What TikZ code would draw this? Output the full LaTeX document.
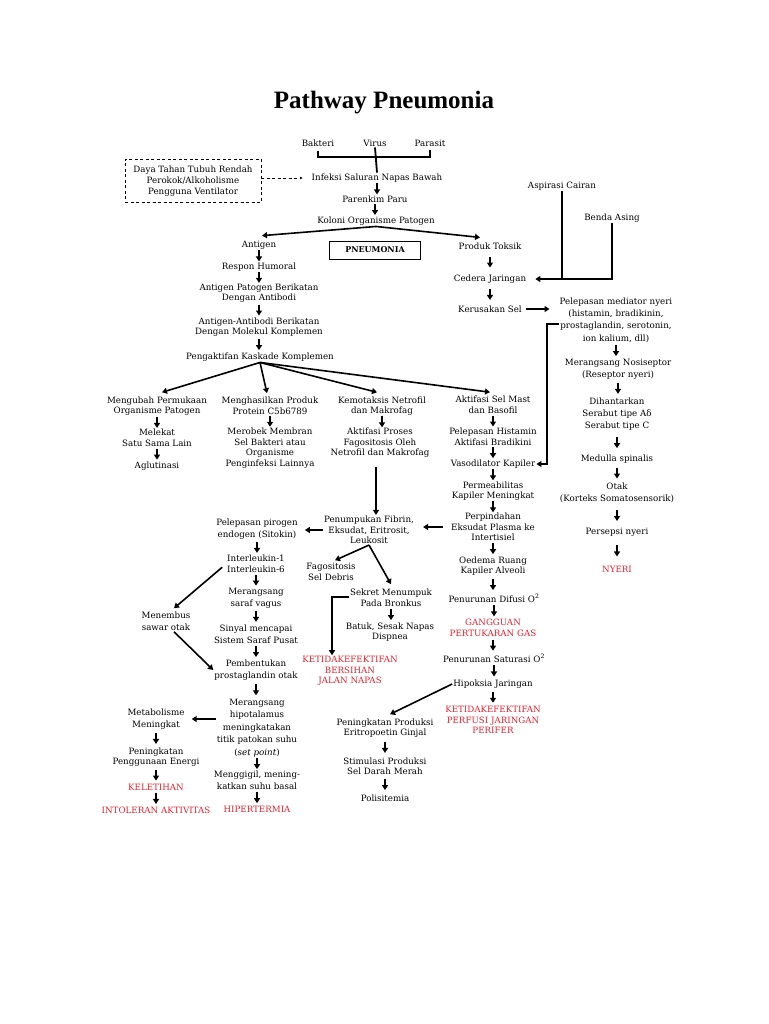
\documentclass[tikz,border=0pt]{standalone}
\usepackage{fontspec}
\setmainfont{DejaVu Serif}
\newfontfamily\judulfont{Liberation Serif}
\usetikzlibrary{arrows.meta}
\definecolor{merah}{RGB}{226,36,48}

\tikzset{
  teks/.style = {align = center, inner sep = 1pt, font = \fontsize{8.7}{10.5}\selectfont},
  longgar/.style = {font = \fontsize{8.7}{12.4}\selectfont},
  diagnosa/.style = {teks, text = merah},
  panah/.style = {line width = 1.6pt, -{Triangle[width = 6pt, length = 5pt]}},
  garis/.style = {line width = 1.8pt},
  putus/.style = {line width = .6pt, dash pattern = on 3pt off 2.5pt,
    -{Triangle[width = 2.5pt, length = 2.5pt]}, shorten >= 8pt}
}

\begin{document}
\begin{tikzpicture}[x = 1pt, y = -1pt]
        \fill[white] (0,0) rectangle (768,1024);

        % draws the title
        \node[font = \judulfont\bfseries\fontsize{25}{30}\selectfont] (judul) at (384,103) {Pathway Pneumonia};

        % draws the causes
        \node[teks] (bakteri) at (318,143) {Bakteri};
        \node[teks] (virus) at (375,143) {Virus};
        \node[teks] (parasit) at (430,143) {Parasit};
        \node[teks, draw, dash pattern = on 3pt off 2.5pt, line width = .6pt,
          minimum width = 136pt, minimum height = 43pt,
          font = \fontsize{8.7}{11}\selectfont] (risiko) at (193,181)
          {Daya Tahan Tubuh Rendah\\Perokok/Alkoholisme\\Pengguna Ventilator};

        % draws the upper nodes
        \node[teks] (infeksi) at (377,178) {Infeksi Saluran Napas Bawah};
        \node[teks] (parenkim) at (375,199) {Parenkim Paru};
        \node[teks] (koloni) at (376,221) {Koloni Organisme Patogen};
        \node[teks] (antigen) at (259,245) {Antigen};
        \node[teks, draw, line width = .6pt, minimum width = 91pt, minimum height = 18pt,
          font = \bfseries\fontsize{8}{10}\selectfont] (pneumonia) at (375,250) {PNEUMONIA};
        \node[teks] (toksik) at (490,246) {Produk Toksik};
        \node[teks] (aspirasi) at (562,186) {Aspirasi Cairan};
        \node[teks] (benda) at (612,218) {Benda Asing};
        \node[teks] (humoral) at (259,267) {Respon Humoral};
        \node[teks] (cedera) at (490,279) {Cedera Jaringan};
        \node[teks] (berikatan) at (259,293) {Antigen Patogen Berikatan\\Dengan Antibodi};
        \node[teks] (kerusakan) at (490,309) {Kerusakan Sel};
        \node[teks, longgar] (mediator) at (616,320)
          {Pelepasan mediator nyeri\\(histamin, bradikinin,\\prostaglandin, serotonin,\\ion kalium, dll)};
        \node[teks] (komplemen) at (259,327) {Antigen-Antibodi Berikatan\\Dengan Molekul Komplemen};
        \node[teks] (kaskade) at (260,357) {Pengaktifan Kaskade Komplemen};
        \node[teks, longgar] (nosiseptor) at (618,369) {Merangsang Nosiseptor\\(Reseptor nyeri)};

        % draws the middle nodes
        \node[teks] (ubah) at (157,406) {Mengubah Permukaan\\Organisme Patogen};
        \node[teks] (protein) at (270,406) {Menghasilkan Produk\\Protein C5b6789};
        \node[teks] (kemotaksis) at (382,406) {Kemotaksis Netrofil\\dan Makrofag};
        \node[teks] (mast) at (493,405) {Aktifasi Sel Mast\\dan Basofil};
        \node[teks, longgar] (hantar) at (617,414) {Dihantarkan\\Serabut tipe Aδ\\Serabut tipe C};
        \node[teks] (melekat) at (157,438) {Melekat\\Satu Sama Lain};
        \node[teks] (aglutinasi) at (157,466) {Aglutinasi};
        \node[teks] (merobek) at (270,448) {Merobek Membran\\Sel Bakteri atau\\Organisme\\Penginfeksi Lainnya};
        \node[teks] (fagosit) at (380,443) {Aktifasi Proses\\Fagositosis Oleh\\Netrofil dan Makrofag};
        \node[teks] (histamin) at (493,437) {Pelepasan Histamin\\Aktifasi Bradikini};
        \node[teks] (vasodilator) at (493,464) {Vasodilator Kapiler};
        \node[teks, longgar] (medulla) at (617,459) {Medulla spinalis};
        \node[teks] (permeabilitas) at (493,491) {Permeabilitas\\Kapiler Meningkat};
        \node[teks, longgar] (otak) at (617,493) {Otak\\(Korteks Somatosensorik)};
        \node[teks] (fibrin) at (369,530) {Penumpukan Fibrin,\\Eksudat, Eritrosit,\\Leukosit};
        \node[teks, longgar] (pirogen) at (257,529) {Pelepasan pirogen\\endogen (Sitokin)};
        \node[teks] (perpindahan) at (493,527) {Perpindahan\\Eksudat Plasma ke\\Intertisiel};
        \node[teks] (persepsi) at (617,532) {Persepsi nyeri};
        \node[teks] (interleukin) at (256,564) {Interleukin-1\\Interleukin-6};
        \node[teks] (oedema) at (493,566) {Oedema Ruang\\Kapiler Alveoli};
        \node[diagnosa] (nyeri) at (617,569) {NYERI};
        \node[teks] (debris) at (331,572) {Fagositosis\\Sel Debris};
        \node[teks] (sekret) at (391,598) {Sekret Menumpuk\\Pada Bronkus};
        \node[teks, longgar] (vagus) at (256,598) {Merangsang\\saraf vagus};
        \node[teks, longgar] (menembus) at (166,621) {Menembus\\sawar otak};
        \node[teks] (difusi) at (494,598) {Penurunan Difusi O\textsuperscript{2}};
        \node[teks, longgar] (sinyal) at (256,634) {Sinyal mencapai\\Sistem Saraf Pusat};
        \node[teks] (batuk) at (390,632) {Batuk, Sesak Napas\\Dispnea};
        \node[diagnosa] (gangguan) at (493,628) {GANGGUAN\\PERTUKARAN GAS};

        % draws the lower nodes
        \node[teks, longgar] (prosta) at (256,670) {Pembentukan\\prostaglandin otak};
        \node[diagnosa] (bersihan) at (350,671) {KETIDAKEFEKTIFAN\\BERSIHAN\\JALAN NAPAS};
        \node[teks] (saturasi) at (494,658) {Penurunan Saturasi O\textsuperscript{2}};
        \node[teks] (hipoksia) at (493,684) {Hipoksia Jaringan};
        \node[teks, longgar] (hipotalamus) at (257,728)
          {Merangsang\\hipotalamus\\meningkatakan\\titik patokan suhu\\(\textit{set point})};
        \node[teks, longgar] (metabolisme) at (156,719) {Metabolisme\\Meningkat};
        \node[diagnosa] (perfusi) at (493,720) {KETIDAKEFEKTIFAN\\PERFUSI JARINGAN\\PERIFER};
        \node[teks] (eritropoetin) at (385,728) {Peningkatan Produksi\\Eritropoetin Ginjal};
        \node[teks] (energi) at (156,757) {Peningkatan\\Penggunaan Energi};
        \node[teks] (stimulasi) at (385,766) {Stimulasi Produksi\\Sel Darah Merah};
        \node[teks, longgar] (menggigil) at (257,780) {Menggigil, mening-\\katkan suhu basal};
        \node[diagnosa] (keletihan) at (156,787) {KELETIHAN};
        \node[teks] (polisitemia) at (385,798) {Polisitemia};
        \node[diagnosa] (intoleran) at (156,810) {INTOLERAN AKTIVITAS};
        \node[diagnosa] (hipertermia) at (257,809) {HIPERTERMIA};

        % draws the bracket of the causes
        \coordinate (cabang) at (375,157);
        \draw[garis] ([yshift = -3pt]bakteri.south) |- (cabang) -| ([yshift = -3pt]parasit.south);
        \draw[garis] (virus.south) -- (infeksi.north);
        \draw[putus] (risiko.east |- infeksi) -- (infeksi.west);

        % draws the short arrows
        \foreach \dari/\ke in {infeksi/parenkim, parenkim/koloni, antigen/humoral,
          humoral/berikatan, berikatan/komplemen, komplemen/kaskade, toksik/cedera,
          cedera/kerusakan, ubah/melekat, melekat/aglutinasi, protein/merobek,
          kemotaksis/fagosit, mast/histamin, histamin/vasodilator,
          vasodilator/permeabilitas, permeabilitas/perpindahan, perpindahan/oedema,
          oedema/difusi, difusi/gangguan, gangguan/saturasi, saturasi/hipoksia,
          hipoksia/perfusi, pirogen/interleukin, interleukin/vagus, vagus/sinyal,
          sinyal/prosta, prosta/hipotalamus, hipotalamus/menggigil,
          menggigil/hipertermia, sekret/batuk, metabolisme/energi, energi/keletihan,
          keletihan/intoleran, eritropoetin/stimulasi, stimulasi/polisitemia,
          mediator/nosiseptor, nosiseptor/hantar, hantar/medulla, medulla/otak,
          otak/persepsi, persepsi/nyeri}{
          \path (\dari.south) -- (\dari.south |- \ke.north) coordinate[midway] (tengah);
          \draw[panah] ([yshift = 5.5pt]tengah) -- ([yshift = -5.5pt]tengah);
        }

        % draws the branches
        \draw[panah] (koloni.south) -- ([xshift = 3pt, yshift = 4pt]antigen.north);
        \draw[panah] (koloni.south) -- ([xshift = -10pt, yshift = 4pt]toksik.north);
        \foreach \tujuan/\geser in {ubah/5, protein/-3, kemotaksis/-5, mast/-3}
          \draw[panah] (kaskade.south) -- ([xshift = \geser pt, yshift = 3pt]\tujuan.north);

        % draws the side paths
        \draw[garis] (aspirasi.south) -- (aspirasi.south |- cedera.east);
        \draw[panah, shorten >= 8pt] (benda.south) |- (cedera.east);
        \draw[panah, shorten <= 3pt, shorten >= 9pt] (kerusakan.east) -- (kerusakan.east -| mediator.west);
        \coordinate (belokMediator) at (547,324);
        \draw[panah] (mediator.west |- belokMediator) -- (belokMediator) |- (vasodilator.east);
        \draw[panah, shorten <= 8pt] ([xshift = -4pt]fagosit.south) -- ([xshift = -4pt]fagosit.south |- fibrin.north);
        \draw[panah, shorten <= 7pt, shorten >= 8pt] (perpindahan.west) -- (perpindahan.west -| fibrin.east);
        \draw[panah, shorten >= 6pt] (fibrin.west) -- (fibrin.west -| pirogen.east);
        \draw[panah] (fibrin.south) -- ([xshift = 4pt, yshift = 2pt]debris.north);
        \draw[panah] (fibrin.south) -- ([yshift = 4pt]sekret.north);
        \coordinate (belokSekret) at (332,597);
        \draw[panah] (sekret.west |- belokSekret) -- (belokSekret) -- (belokSekret |- bersihan.north);
        \draw[panah, shorten <= 5pt] (interleukin.west) -- ([xshift = 8pt, yshift = 2pt]menembus.north);
        \draw[panah] ([xshift = 8pt]menembus.south) -- (prosta.west);
        \draw[panah] (hipoksia.west) -- ([xshift = 5pt, yshift = 3pt]eritropoetin.north);
        \draw[panah, shorten >= 6pt] (hipotalamus.west |- metabolisme.east) -- (metabolisme.east);
      \end{tikzpicture}
\end{document}
